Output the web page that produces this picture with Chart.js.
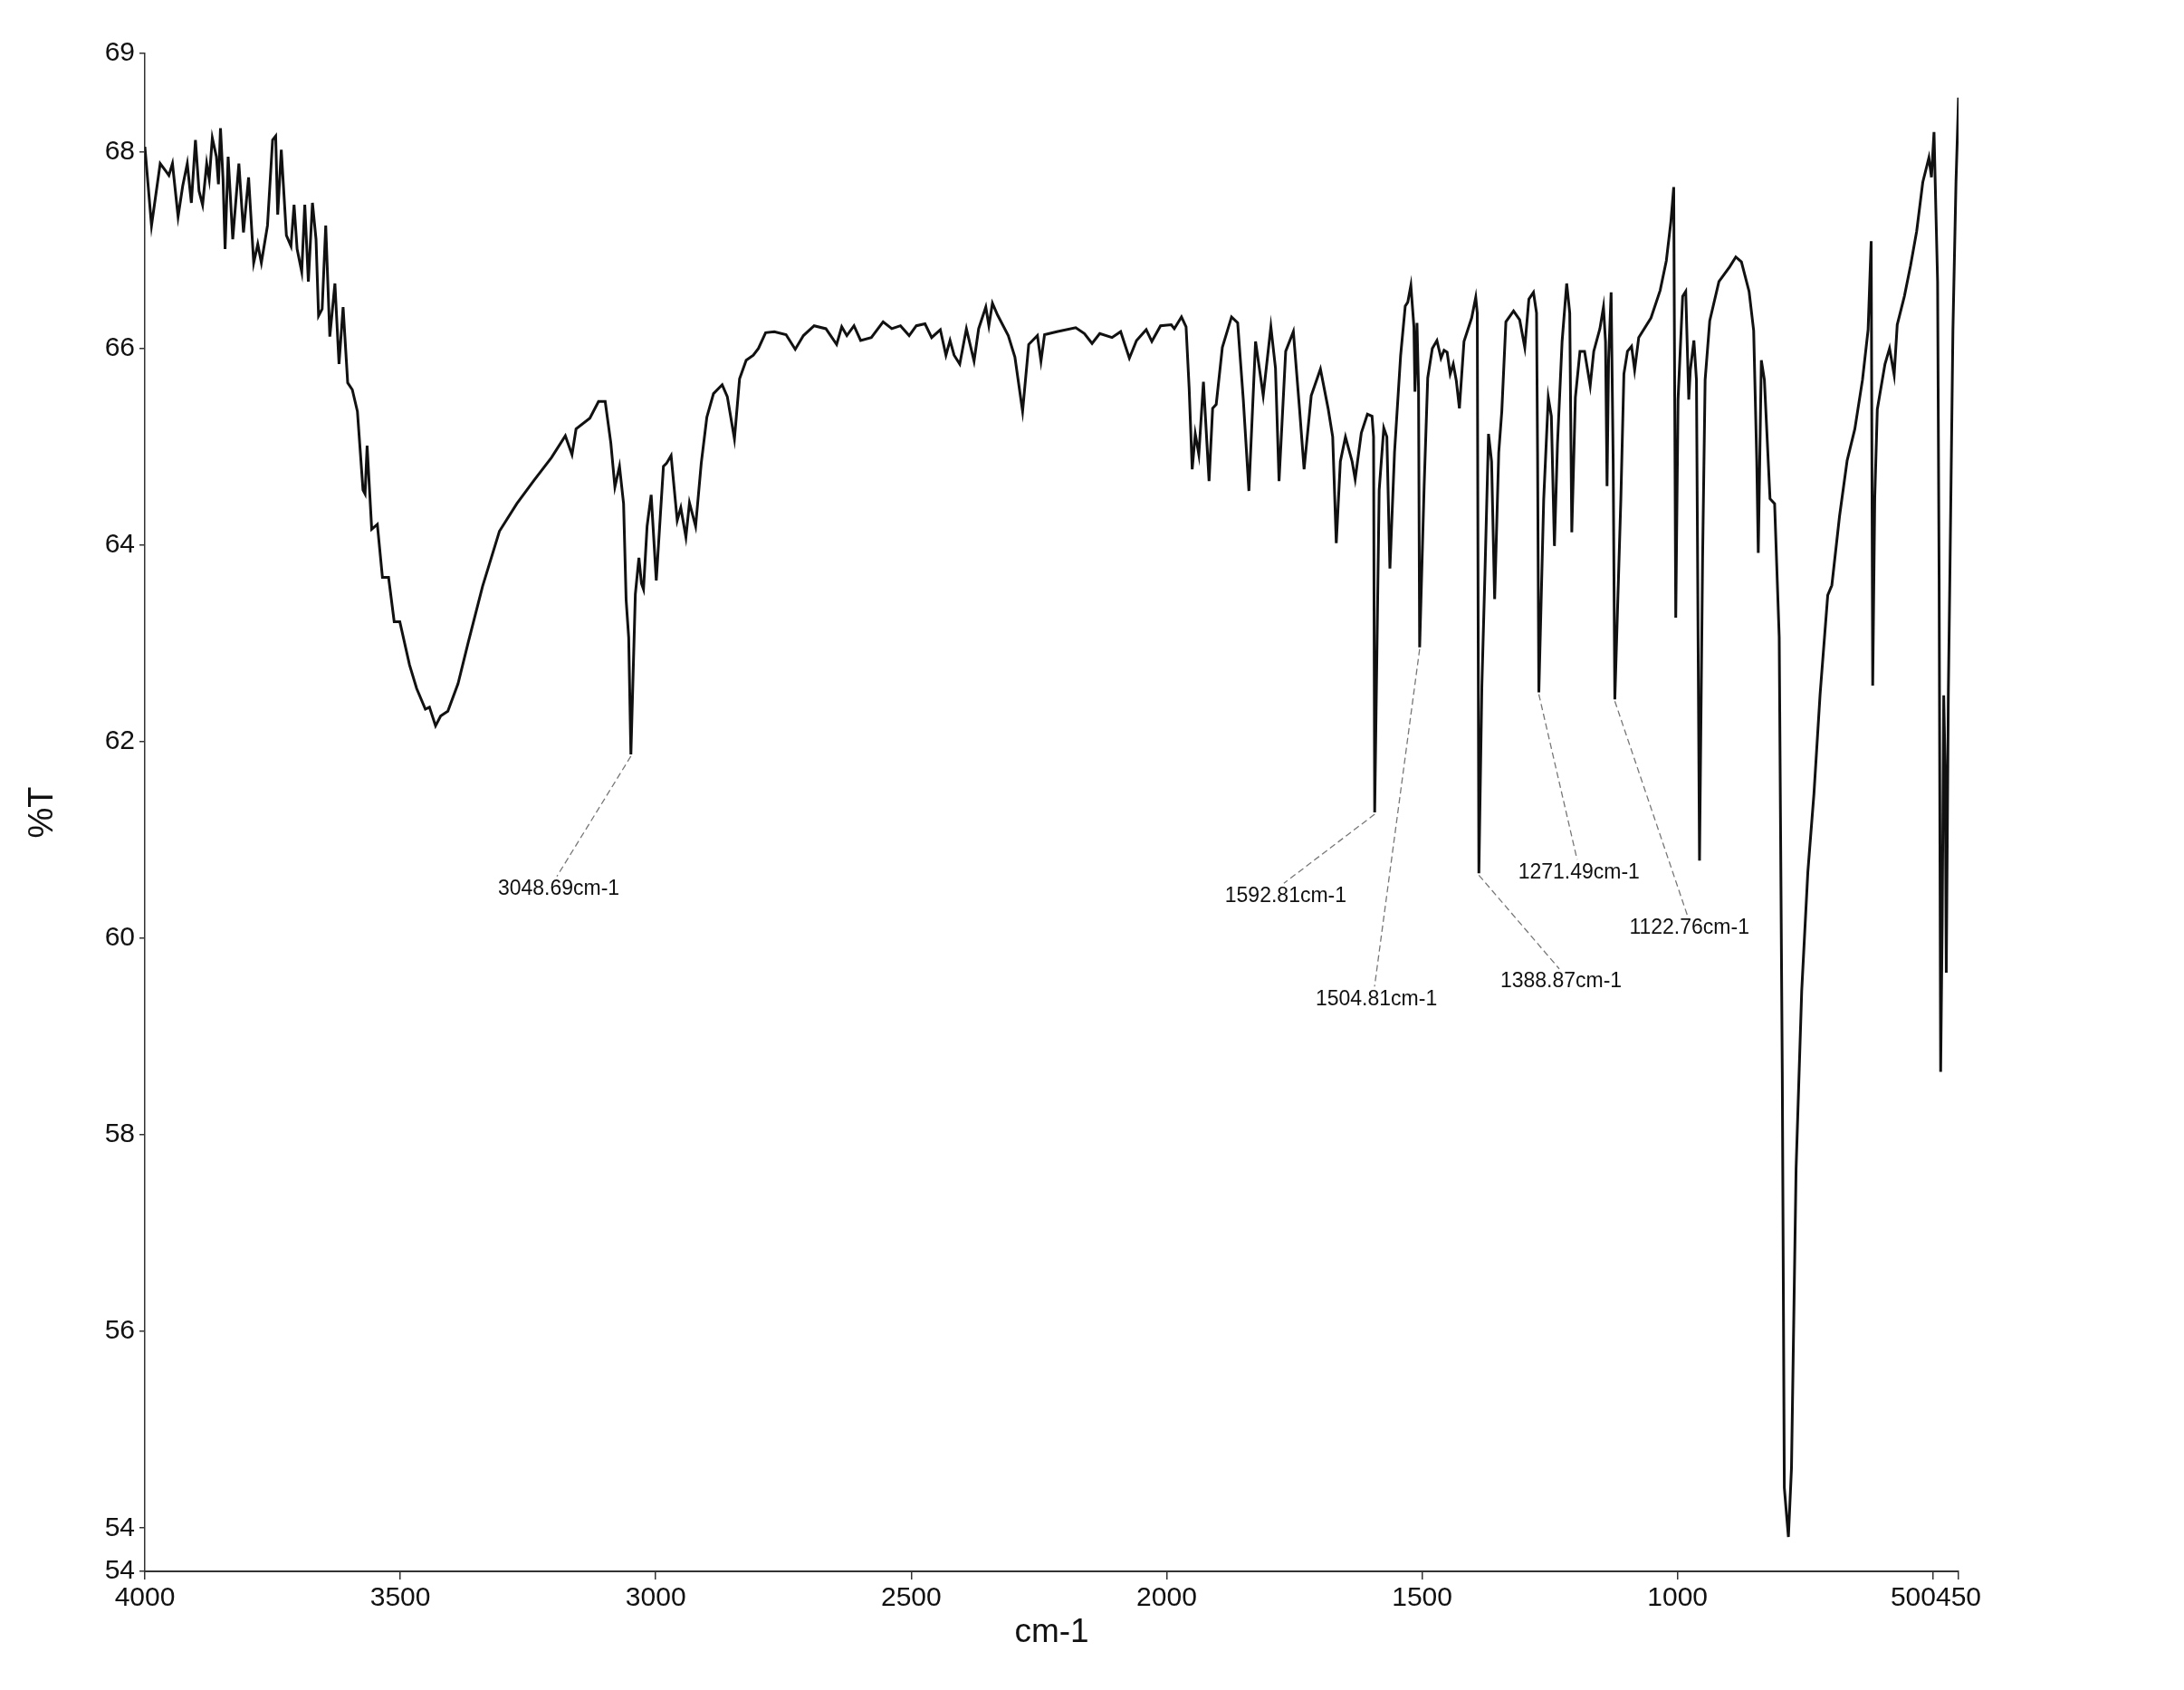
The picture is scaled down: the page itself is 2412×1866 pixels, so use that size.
<!DOCTYPE html>
<html><head><meta charset="utf-8">
<script src="https://cdn.jsdelivr.net/npm/chart.js@4"></script>
<style>html,body{margin:0;padding:0;background:#fff}#wrap{width:2412px;height:1866px;position:relative}</style>
</head><body><div id="wrap"><canvas id="c" width="2412" height="1866"></canvas></div>
<script>
const wavenumbers = [4000,3987,3970,3960,3953,3946,3935,3926,3917,3909,3901,3894,3887,3879,3874,3868,3860,3856,3852,3847,3843,3837,3828,3816,3807,3797,3787,3779,3772,3760,3750,3744,3740,3733,3723,3714,3708,3702,3693,3687,3680,3672,3665,3660,3653,3646,3638,3628,3620,3612,3603,3594,3584,3573,3569,3565,3556,3545,3535,3523,3512,3501,3482,3468,3451,3443,3431,3421,3407,3387,3367,3339,3306,3272,3238,3204,3177,3164,3156,3129,3112,3099,3088,3080,3071,3063,3058,3053,3048.69,3040,3033,3028,3024,3017,3009,2999,2985,2979,2970,2958,2951,2941,2934,2922,2911,2900,2887,2870,2860,2846,2836,2823,2809,2799,2785,2768,2745,2727,2711,2690,2667,2646,2636,2626,2612,2599,2578,2555,2538,2521,2504,2490,2473,2460,2443,2432,2424,2416,2405,2392,2377,2368,2354,2348,2341,2331,2310,2297,2282,2270,2253,2246,2239,2215,2178,2161,2146,2131,2107,2090,2073,2059,2040,2029,2012,1991,1985,1971,1962,1956,1950,1944,1937,1928,1917,1910,1903,1891,1873,1861,1850,1839,1826,1811,1796,1787,1780,1767,1752,1740,1731,1717,1699,1684,1675,1668,1660,1650,1637,1631,1619,1607,1598,1595,1592.81,1584,1575,1569,1563,1554,1542,1533,1528,1522,1516,1514,1510,1507,1504.81,1496,1489,1480,1471,1463,1457,1451,1445,1439,1433,1427,1418,1403,1395,1392,1388.87,1383,1377,1370,1364,1358,1350,1344,1336,1321,1309,1299,1291,1282,1276,1274,1271.49,1262,1253,1247,1241,1235,1226,1217,1211,1207,1200,1191,1182,1171,1164,1152,1145,1141,1138,1135,1130,1126,1122.76,1111,1105,1098,1090,1084,1076,1052,1034,1022,1013,1007.5,1003.5,999,990,984,978,975,968,963,957,951,946,937,919,898,886,875,860,851,845,842,836,830,819,810,801,795,791,783,777,768,757,745,733,721,706,698,683,668,653,638,627,621,618,614,609,594,585,576,570,556,544,532,520,508,503,498,491,488,485,482,479,476,474,470,467,461,455,450];
const transmittance = [68.05,67.25,67.88,67.81,67.76,67.88,67.34,67.65,67.88,67.48,68.12,67.6,67.46,67.88,67.72,68.14,67.95,67.67,68.24,67.72,67.01,67.95,67.11,67.88,67.18,67.74,66.87,67.06,66.87,67.25,68.12,68.16,67.36,68.02,67.15,67.04,67.46,67.01,66.78,67.46,66.68,67.48,67.11,66.33,66.4,67.25,66.12,66.66,65.84,66.42,65.65,65.58,65.36,64.56,64.52,65.01,64.16,64.21,63.67,63.67,63.22,63.22,62.78,62.54,62.33,62.35,62.16,62.26,62.31,62.59,63.01,63.58,64.14,64.42,64.66,64.89,65.11,64.92,65.18,65.29,65.46,65.46,65.04,64.59,64.8,64.42,63.44,63.06,61.87,63.5,63.87,63.61,63.55,64.19,64.51,63.64,64.8,64.83,64.91,64.25,64.38,64.08,64.43,64.19,64.83,65.3,65.54,65.63,65.51,65.08,65.69,65.88,65.93,66.0,66.16,66.17,66.14,65.99,66.13,66.23,66.2,66.04,66.22,66.13,66.23,66.08,66.11,66.27,66.2,66.23,66.13,66.23,66.25,66.11,66.19,65.93,66.08,65.93,65.84,66.2,65.87,66.2,66.42,66.23,66.46,66.34,66.13,65.91,65.36,66.04,66.13,65.87,66.14,66.17,66.21,66.15,66.05,66.15,66.11,66.17,65.9,66.08,66.19,66.07,66.23,66.24,66.2,66.32,66.22,65.6,64.77,65.13,64.92,65.66,64.65,65.39,65.43,66.01,66.32,66.26,65.48,64.55,66.07,65.52,66.22,65.8,64.65,65.97,66.17,65.39,64.77,65.52,65.79,65.39,65.1,64.02,64.85,65.1,64.85,64.67,65.14,65.33,65.31,65.1,61.28,64.56,65.19,65.1,63.76,64.94,65.93,66.43,66.47,66.64,66.22,65.56,66.26,65.6,62.96,64.6,65.7,66.0,66.08,65.9,65.98,65.96,65.74,65.84,65.67,65.39,66.07,66.31,66.52,66.36,60.66,62.57,63.71,65.13,64.85,63.45,64.94,65.36,66.27,66.38,66.29,66.01,66.5,66.57,66.36,64.94,62.5,64.46,65.5,65.31,63.99,65.03,66.07,66.66,66.36,64.13,65.5,65.97,65.97,65.62,65.97,66.2,66.42,66.07,64.6,65.88,66.57,64.85,62.43,64.46,65.74,65.97,66.02,65.78,66.11,66.31,66.59,66.89,67.29,67.64,63.26,65.48,66.53,66.58,65.48,65.78,66.08,65.68,60.79,63.85,65.68,66.28,66.68,66.83,66.93,66.88,66.58,66.18,64.87,63.92,65.88,65.68,64.47,64.42,63.06,58.64,54.41,53.91,54.61,57.65,59.46,60.67,61.47,62.48,63.49,63.59,64.29,64.86,65.18,65.68,66.19,67.09,62.57,64.48,65.38,65.84,66.0,65.73,66.24,66.53,66.84,67.19,67.69,67.94,67.74,68.2,66.68,63.66,58.64,60.15,62.47,61.67,59.65,62.47,63.66,66.18,67.69,68.55];

const xTicks = [4000,3500,3000,2500,2000,1500,1000,500,450];
const xTickLabels = ['4000','3500','3000','2500','2000','1500','1000','500','450'];
const yTicks = [69,68,66,64,62,60,58,56,54,53.56];
const yTickLabels = ['69','68','66','64','62','60','58','56','54','54'];

const peakWn = [3048.69,1592.81,1504.81,1388.87,1271.49,1122.76];
const peakT = [61.87,61.28,62.96,60.66,62.5,62.43];
const peakLabels = ['3048.69cm-1','1592.81cm-1','1504.81cm-1','1388.87cm-1','1271.49cm-1','1122.76cm-1'];
const labelWn = [3190,1767,1589.5,1228,1193,977];
const labelT = [60.5,60.43,59.38,59.56,60.67,60.1];

const points = wavenumbers.map((w,i)=>({x:w,y:transmittance[i]}));
const FONT = "'Liberation Sans', Arial, sans-serif";

const drawExtras = {
  id:'drawExtras',
  afterDraw(chart){
    const ctx = chart.ctx, xs = chart.scales.x, ys = chart.scales.y;
    ctx.save();
    ctx.font = '30px ' + FONT;
    ctx.fillStyle = '#111';
    ctx.textBaseline = 'top';
    const px = xTicks.map(v=>xs.getPixelForValue(v));
    xTickLabels.forEach((t,i)=>{
      const w = ctx.measureText(t).width;
      let align = 'center', x = px[i];
      if (i < xTicks.length-1) {
        const nw = ctx.measureText(xTickLabels[i+1]).width;
        if (Math.abs(px[i+1]-px[i]) < (w+nw)/2) { align = 'right'; x = px[i+1] - nw/2; }
      }
      ctx.textAlign = align;
      ctx.fillText(t, x, xs.top + 15);
    });
    ctx.font = '23px ' + FONT;
    ctx.textAlign = 'center';
    ctx.textBaseline = 'middle';
    peakLabels.forEach((t,i)=>{
      const x0 = xs.getPixelForValue(peakWn[i]), y0 = ys.getPixelForValue(peakT[i]) + 2;
      const x1 = xs.getPixelForValue(labelWn[i]), y1 = ys.getPixelForValue(labelT[i]);
      ctx.strokeStyle = '#777';
      ctx.lineWidth = 1.3;
      ctx.setLineDash([7,4]);
      ctx.beginPath(); ctx.moveTo(x0,y0); ctx.lineTo(x1 - 2, y1 - 14); ctx.stroke();
      ctx.setLineDash([]);
      ctx.fillStyle = '#111';
      ctx.fillText(t, x1, y1);
    });
    ctx.restore();
  }
};

new Chart(document.getElementById('c'), {
  type:'line',
  data:{datasets:[{data:points, borderColor:'#111', borderWidth:3, pointRadius:0, tension:0, fill:false}]},
  options:{
    responsive:false, animation:false, devicePixelRatio:1,
    layout:{padding:{top:59,right:249,left:0,bottom:0}},
    plugins:{legend:{display:false}, tooltip:{enabled:false}},
    scales:{
      x:{type:'linear', reverse:true, min:450, max:4000,
        afterBuildTicks:(s)=>{ s.ticks = xTicks.slice().sort((a,b)=>a-b).map(v=>({value:v})); },
        afterFit:(s)=>{ s.height = 131; },
        ticks:{display:false, autoSkip:false},
        grid:{display:true, drawOnChartArea:false, drawTicks:true, tickLength:9, color:'#333', lineWidth:1.5},
        border:{display:true, color:'#333', width:2},
        title:{display:true, text:'cm-1', font:{family:FONT, size:37}, color:'#111', padding:{top:0,bottom:41}}
      },
      y:{type:'linear', min:53.56, max:69,
        afterBuildTicks:(s)=>{ s.ticks = yTicks.slice().sort((a,b)=>a-b).map(v=>({value:v})); },
        afterFit:(s)=>{ s.width = 160; },
        ticks:{autoSkip:false, padding:5, color:'#111', font:{family:FONT, size:30},
          callback:(v)=>{ const i = yTicks.indexOf(v); return i>=0 ? yTickLabels[i] : ''; }},
        grid:{display:true, drawOnChartArea:false, drawTicks:true, tickLength:6, color:'#333', lineWidth:1.5},
        border:{display:true, color:'#333', width:1.5},
        title:{display:true, text:'%T', font:{family:FONT, size:38}, color:'#111', padding:{top:25,bottom:0}}
      }
    }
  },
  plugins:[drawExtras]
});
</script></body></html>
